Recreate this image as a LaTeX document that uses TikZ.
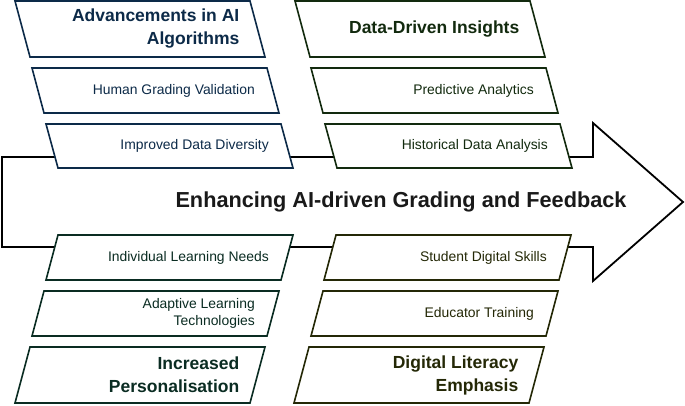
\documentclass[tikz,border=0pt]{standalone}
\usepackage{fontspec}
\setmainfont{Liberation Sans}
\usetikzlibrary{calc}

\definecolor{algoc}{RGB}{12,42,72}
\definecolor{datac}{RGB}{18,42,14}
\definecolor{persc}{RGB}{10,44,34}
\definecolor{litc}{RGB}{36,40,6}

% box style, text style, name, top-left x, top y, slant, height, text
\newcommand{\leanbox}[8]{%
  \draw[#1] (#4,#5) -- ++(235,0) -- ++(#6,#7) -- ++(-235,0) -- cycle;
  \node[#2] (#3) at (#4+235+#6/2-18,#5+#7/2) {#8};
}

\begin{document}
\begin{tikzpicture}[x=1pt,y=-1pt]
    \tikzstyle{lean}=[line width=1.6pt,fill=white,line join=miter]
    \tikzstyle{item}=[anchor=east,inner sep=0pt,align=right,font=\fontsize{13.9}{17}\selectfont]
    \tikzstyle{head}=[anchor=east,inner sep=0pt,align=right,font=\fontsize{17.5}{23}\selectfont\bfseries]

    \tikzstyle{A}=[lean,draw=algoc]    % algorithms
    \tikzstyle{D}=[lean,draw=datac]    % data
    \tikzstyle{P}=[lean,draw=persc]    % personalisation
    \tikzstyle{L}=[lean,draw=litc]     % literacy

    \useasboundingbox (0,0) rectangle (685,405);

    % spine
    \draw[line width=1.8pt,line join=miter] (2,157) -- (593,157) -- (593,123) -- (683,202)
        -- (593,281) -- (593,247) -- (2,247) -- cycle;
    \node[font=\fontsize{21.7}{26}\selectfont\bfseries,text=black!90] (goal) at (401,202)
        {Enhancing AI-driven Grading and Feedback};

    % upper left
    \leanbox{A}{head,text=algoc}{algo}{15}{1}{15}{56}{Advancements in AI\\Algorithms}
    \leanbox{A}{item,text=algoc}{human}{32}{68}{12}{45}{Human Grading Validation}
    \leanbox{A}{item,text=algoc}{diverse}{46}{124}{12}{44}{Improved Data Diversity}

    % upper right
    \leanbox{D}{head,text=datac}{data}{295}{1}{15}{56}{Data-Driven Insights}
    \leanbox{D}{item,text=datac}{predict}{311}{68}{12}{45}{Predictive Analytics}
    \leanbox{D}{item,text=datac}{history}{325}{124}{12}{44}{Historical Data Analysis}

    % lower left
    \leanbox{P}{item,text=persc}{needs}{58}{235}{-12}{45}{Individual Learning Needs}
    \leanbox{P}{item,text=persc}{adapt}{44}{291}{-12}{45}{Adaptive Learning\\Technologies}
    \leanbox{P}{head,text=persc}{pers}{30}{347}{-15}{56}{Increased\\Personalisation}

    % lower right
    \leanbox{L}{item,text=litc}{skills}{336}{235}{-12}{45}{Student Digital Skills}
    \leanbox{L}{item,text=litc}{train}{323}{291}{-12}{45}{Educator Training}
    \leanbox{L}{head,text=litc}{lit}{309}{347}{-15}{56}{Digital Literacy\\Emphasis}
\end{tikzpicture}
\end{document}
